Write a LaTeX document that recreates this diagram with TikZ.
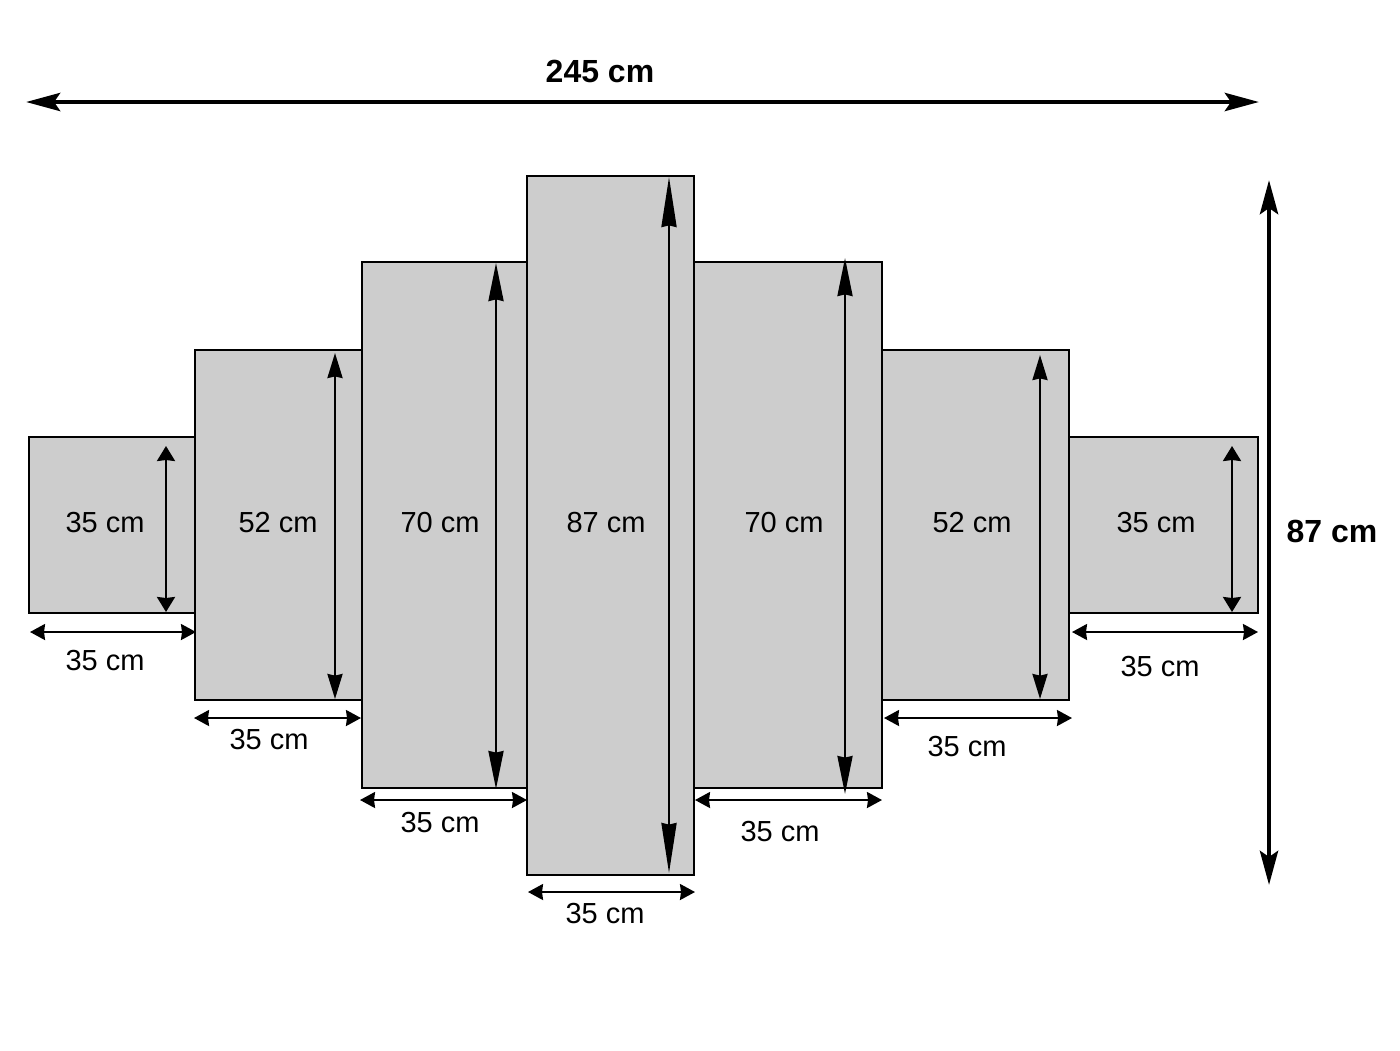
\documentclass[tikz,border=0pt]{standalone}
\usepackage{fontspec}
\setmainfont{Liberation Sans}
\usetikzlibrary{arrows.meta}
\definecolor{panelgray}{HTML}{CDCDCD}
\begin{document}
\begin{tikzpicture}[x=0.5pt,y=-0.5pt,
  panel/.style={fill=panelgray,draw=black,line width=0.9pt},
  bigdim/.style={line width=2.4pt,{Stealth[length=17pt,width=9pt,inset=3pt]}-{Stealth[length=17pt,width=9pt,inset=3pt]}},
  vdim/.style={line width=1.2pt,{Stealth[length=#1,width=7.5pt,inset=0.8pt]}-{Stealth[length=#1,width=7.5pt,inset=0.8pt]}},
  vdim/.default=12.5pt,
  shortvdim/.style={line width=1.2pt,{Stealth[length=7.5pt,width=9pt,inset=0.5pt]}-{Stealth[length=7.5pt,width=9pt,inset=0.5pt]}},
  hdim/.style={line width=1pt,{Stealth[length=7.5pt,width=8pt,inset=0.5pt]}-{Stealth[length=7.5pt,width=8pt,inset=0.5pt]}},
  lbl/.style={font=\fontsize{14.5pt}{16pt}\selectfont,inner sep=0pt},
  blbl/.style={font=\bfseries\fontsize{16pt}{18pt}\selectfont,inner sep=0pt}]
\useasboundingbox (0,0) rectangle (1400,1050);
% panels
\path[panel] (29,437) rectangle (195,613);
\path[panel] (195,350) rectangle (362,700);
\path[panel] (362,262) rectangle (527,788);
\path[panel] (694,262) rectangle (882,788);
\path[panel] (882,350) rectangle (1069,700);
\path[panel] (1069,437) rectangle (1258,613);
\path[panel] (527,176) rectangle (694,875);
% coordinates for vertical dims
\coordinate (v1a) at (166,446); \coordinate (v1b) at (166,612);
\coordinate (v2a) at (335,353); \coordinate (v2b) at (335,699);
\coordinate (v3a) at (496,263); \coordinate (v3b) at (496,789);
\coordinate (v4a) at (669,177); \coordinate (v4b) at (669,873);
\coordinate (v5a) at (845,258); \coordinate (v5b) at (845,794);
\coordinate (v6a) at (1040,355); \coordinate (v6b) at (1040,699);
\coordinate (v7a) at (1232,446); \coordinate (v7b) at (1232,612);
\draw[shortvdim] (v1a) -- (v1b);
\draw[vdim] (v2a) -- (v2b);
\draw[vdim=19pt] (v3a) -- (v3b);
\draw[vdim=25pt] (v4a) -- (v4b);
\draw[vdim=19pt] (v5a) -- (v5b);
\draw[vdim] (v6a) -- (v6b);
\draw[shortvdim] (v7a) -- (v7b);
% coordinates for horizontal dims
\coordinate (h1a) at (30,632); \coordinate (h1b) at (196,632);
\coordinate (h2a) at (194,718); \coordinate (h2b) at (361,718);
\coordinate (h3a) at (360,800); \coordinate (h3b) at (527,800);
\coordinate (h4a) at (528,892); \coordinate (h4b) at (695,892);
\coordinate (h5a) at (695,800); \coordinate (h5b) at (882,800);
\coordinate (h6a) at (884,718); \coordinate (h6b) at (1072,718);
\coordinate (h7a) at (1072,632); \coordinate (h7b) at (1258,632);
\draw[hdim] (h1a) -- (h1b);
\draw[hdim] (h2a) -- (h2b);
\draw[hdim] (h3a) -- (h3b);
\draw[hdim] (h4a) -- (h4b);
\draw[hdim] (h5a) -- (h5b);
\draw[hdim] (h6a) -- (h6b);
\draw[hdim] (h7a) -- (h7b);
% overall dims
\coordinate (ta) at (26,102); \coordinate (tb) at (1259,102);
\draw[bigdim] (ta) -- (tb);
\coordinate (ra) at (1269,180); \coordinate (rb) at (1269,885);
\draw[bigdim] (ra) -- (rb);
% labels
\node[lbl] (l1) at (105,523) {35 cm};
\node[lbl] (l2) at (278,523) {52 cm};
\node[lbl] (l3) at (440,523) {70 cm};
\node[lbl] (l4) at (606,523) {87 cm};
\node[lbl] (l5) at (784,523) {70 cm};
\node[lbl] (l6) at (972,523) {52 cm};
\node[lbl] (l7) at (1156,523) {35 cm};
\node[lbl] (w1) at (105,661) {35 cm};
\node[lbl] (w2) at (269,740) {35 cm};
\node[lbl] (w3) at (440,822) {35 cm};
\node[lbl] (w4) at (605,913) {35 cm};
\node[lbl] (w5) at (780,831) {35 cm};
\node[lbl] (w6) at (967,747) {35 cm};
\node[lbl] (w7) at (1160,667) {35 cm};
\node[blbl] (tot) at (600,71) {245 cm};
\node[blbl] (hgt) at (1332,531) {87 cm};
\end{tikzpicture}
\end{document}
